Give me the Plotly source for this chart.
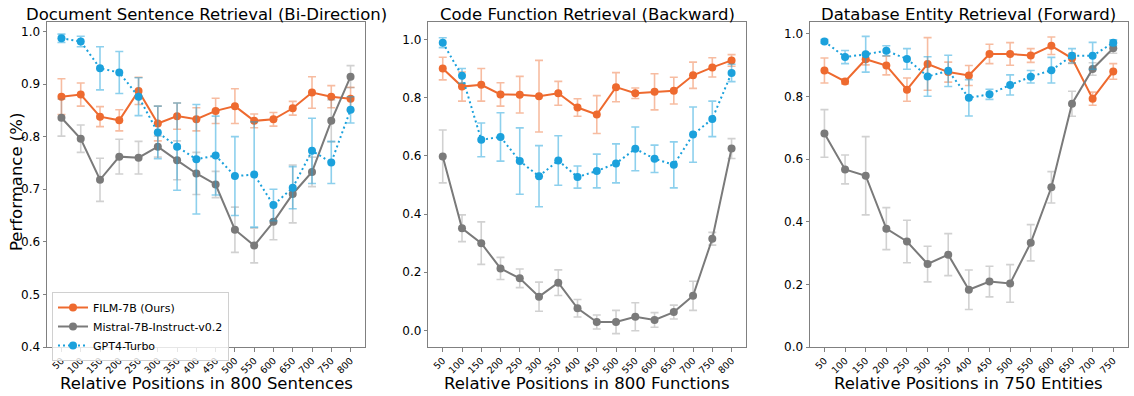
import plotly.graph_objects as go

# ---------------- data ----------------
positions_800 = [50, 100, 150, 200, 250, 300, 350, 400, 450, 500, 550, 600, 650, 700, 750, 800]
positions_750 = [50, 100, 150, 200, 250, 300, 350, 400, 450, 500, 550, 600, 650, 700, 750]

# Panel 1: Document Sentence Retrieval (Bi-Direction)
doc_film = [0.876, 0.880, 0.838, 0.831, 0.887, 0.825, 0.839, 0.833, 0.849, 0.858, 0.830, 0.833, 0.854, 0.884, 0.876, 0.872]
doc_film_err = [0.034, 0.022, 0.019, 0.020, 0.026, 0.033, 0.025, 0.022, 0.024, 0.033, 0.013, 0.013, 0.013, 0.030, 0.021, 0.022]
doc_mistral = [0.836, 0.796, 0.718, 0.762, 0.760, 0.781, 0.755, 0.730, 0.709, 0.623, 0.593, 0.638, 0.691, 0.733, 0.830, 0.914]
doc_mistral_err = [0.035, 0.026, 0.041, 0.033, 0.031, 0.020, 0.037, 0.040, 0.025, 0.043, 0.033, 0.034, 0.055, 0.028, 0.040, 0.021]
doc_gpt4 = [0.987, 0.981, 0.930, 0.922, 0.876, 0.808, 0.781, 0.757, 0.764, 0.725, 0.728, 0.670, 0.703, 0.773, 0.751, 0.851]
doc_gpt4_err = [0.008, 0.010, 0.041, 0.040, 0.036, 0.050, 0.083, 0.104, 0.075, 0.075, 0.100, 0.030, 0.040, 0.062, 0.040, 0.025]

# Panel 2: Code Function Retrieval (Backward)
code_film = [0.900, 0.838, 0.844, 0.811, 0.810, 0.805, 0.815, 0.766, 0.742, 0.836, 0.815, 0.820, 0.824, 0.877, 0.904, 0.928]
code_film_err = [0.039, 0.050, 0.056, 0.040, 0.063, 0.123, 0.041, 0.030, 0.065, 0.050, 0.018, 0.062, 0.046, 0.045, 0.033, 0.020]
code_mistral = [0.598, 0.351, 0.300, 0.213, 0.179, 0.116, 0.164, 0.076, 0.029, 0.029, 0.047, 0.036, 0.063, 0.119, 0.315, 0.625]
code_mistral_err = [0.091, 0.046, 0.073, 0.038, 0.032, 0.050, 0.044, 0.030, 0.024, 0.040, 0.048, 0.025, 0.024, 0.050, 0.022, 0.034]
code_gpt4 = [0.989, 0.875, 0.655, 0.665, 0.582, 0.530, 0.584, 0.527, 0.548, 0.574, 0.624, 0.590, 0.569, 0.673, 0.727, 0.885]
code_gpt4_err = [0.017, 0.025, 0.058, 0.083, 0.114, 0.105, 0.085, 0.038, 0.058, 0.067, 0.075, 0.047, 0.079, 0.095, 0.061, 0.030]

# Panel 3: Database Entity Retrieval (Forward)
db_film = [0.883, 0.848, 0.919, 0.899, 0.822, 0.904, 0.878, 0.867, 0.936, 0.936, 0.931, 0.962, 0.922, 0.793, 0.880]
db_film_err = [0.040, 0.008, 0.018, 0.030, 0.037, 0.084, 0.032, 0.032, 0.031, 0.036, 0.022, 0.028, 0.016, 0.021, 0.025]
db_mistral = [0.682, 0.567, 0.547, 0.378, 0.337, 0.265, 0.295, 0.183, 0.209, 0.203, 0.333, 0.510, 0.777, 0.888, 0.954]
db_mistral_err = [0.076, 0.046, 0.125, 0.067, 0.068, 0.057, 0.067, 0.063, 0.049, 0.060, 0.058, 0.050, 0.040, 0.020, 0.016]
db_gpt4 = [0.976, 0.926, 0.935, 0.946, 0.920, 0.864, 0.882, 0.796, 0.807, 0.837, 0.863, 0.884, 0.930, 0.930, 0.972]
db_gpt4_err = [0.006, 0.021, 0.057, 0.016, 0.033, 0.063, 0.050, 0.058, 0.016, 0.032, 0.020, 0.041, 0.023, 0.043, 0.009]

titles = ["Document Sentence Retrieval (Bi-Direction)",
          "Code Function Retrieval (Backward)",
          "Database Entity Retrieval (Forward)"]
xlabels = ["Relative Positions in 800 Sentences",
           "Relative Positions in 800 Functions",
           "Relative Positions in 750 Entities"]
ylabel = "Performance (%)"
series_names = ["FILM-7B (Ours)", "Mistral-7B-Instruct-v0.2", "GPT4-Turbo"]

# ---------------- style ----------------
W, H = 1134, 396


def fx(s):
    return s / W


def fy(s):
    return 1 - s / H


FONT = "DejaVu Sans"
ORANGE = "#ee6a2f"
GRAY = "#7a7a7a"
BLUE = "#1ba1dc"
ERR = {ORANGE: "rgba(238,106,47,0.45)", GRAY: "rgba(122,122,122,0.35)", BLUE: "rgba(27,161,220,0.5)"}
FRAME = "#808080"

panels = [
    dict(x=positions_800, data=[(doc_film, doc_film_err), (doc_mistral, doc_mistral_err), (doc_gpt4, doc_gpt4_err)],
         px=(47, 365), yrange=[0.4, 1.018], xrange=[12.5, 837.5], ytick0=0.4, dtick=0.1),
    dict(x=positions_800, data=[(code_film, code_film_err), (code_mistral, code_mistral_err), (code_gpt4, code_gpt4_err)],
         px=(428.3, 746), yrange=[-0.057, 1.06], xrange=[12.5, 837.5], ytick0=0.0, dtick=0.2),
    dict(x=positions_750, data=[(db_film, db_film_err), (db_mistral, db_mistral_err), (db_gpt4, db_gpt4_err)],
         px=(810, 1127.7), yrange=[0.0, 1.038], xrange=[15, 785], ytick0=0.0, dtick=0.2),
]
plot_top, plot_bottom = 22, 347
ydom = [fy(plot_bottom), fy(plot_top)]

colors = [ORANGE, GRAY, BLUE]
dashes = ["solid", "solid", "2px,3px"]

fig = go.Figure()
layout = dict(
    width=W, height=H,
    margin=dict(l=0, r=0, t=0, b=0, autoexpand=False),
    paper_bgcolor="white", plot_bgcolor="white",
    font=dict(family=FONT, size=11, color="black"),
    showlegend=True,
    legend=dict(x=fx(52), y=fy(292), xanchor="left", yanchor="top",
                bgcolor="rgba(255,255,255,0.8)", bordercolor="#d0d0d0", borderwidth=1,
                font=dict(family=FONT, size=11), itemwidth=30, tracegroupgap=0),
    annotations=[],
)

for i, p in enumerate(panels):
    sfx = "" if i == 0 else str(i + 1)
    xa, ya = "x" + sfx, "y" + sfx
    for j, (vals, errs) in enumerate(p["data"]):
        fig.add_trace(go.Scatter(
            x=p["x"], y=vals, xaxis=xa, yaxis=ya,
            mode="lines+markers", name=series_names[j], showlegend=(i == 0),
            line=dict(color=colors[j], width=2, dash=dashes[j]),
            marker=dict(color=colors[j], size=8),
            error_y=dict(type="data", array=errs, visible=True, color=ERR[colors[j]], thickness=1.6, width=4),
        ))
    x0, x1 = p["px"]
    layout["xaxis" + sfx] = dict(
        domain=[fx(x0), fx(x1)], anchor=ya, range=p["xrange"],
        tickmode="array", tickvals=p["x"], ticktext=[str(v) for v in p["x"]],
        tickangle=-45, ticks="outside", ticklen=3.5, tickcolor=FRAME,
        tickfont=dict(family=FONT, size=9.5),
        showline=True, linecolor=FRAME, linewidth=1, mirror=True,
        showgrid=False, zeroline=False, automargin=False,
    )
    layout["yaxis" + sfx] = dict(
        domain=ydom, anchor=xa, range=p["yrange"],
        tick0=p["ytick0"], dtick=p["dtick"], tickformat=".1f",
        ticks="outside", ticklen=3.5, tickcolor=FRAME,
        tickfont=dict(family=FONT, size=12),
        showline=True, linecolor=FRAME, linewidth=1, mirror=True,
        showgrid=False, zeroline=False, automargin=False,
    )
    cx = fx((x0 + x1) / 2)
    layout["annotations"].append(dict(
        text=titles[i], x=cx, y=fy(14), xref="paper", yref="paper",
        xanchor="center", yanchor="middle", showarrow=False,
        font=dict(family=FONT, size=16.5, color="black")))
    layout["annotations"].append(dict(
        text=xlabels[i], x=cx, y=fy(383), xref="paper", yref="paper",
        xanchor="center", yanchor="middle", showarrow=False,
        font=dict(family=FONT, size=16.5, color="black")))

layout["annotations"].append(dict(
    text=ylabel, x=fx(17), y=fy(182), xref="paper", yref="paper",
    xanchor="center", yanchor="middle", showarrow=False, textangle=-90,
    font=dict(family=FONT, size=16.5, color="black")))

fig.update_layout(**layout)
# remove the browser's default 8px body margin so the figure fills the window exactly
fig.write_html("out.html", config={"displayModeBar": False},
               post_script="document.body.style.margin='0px';")
